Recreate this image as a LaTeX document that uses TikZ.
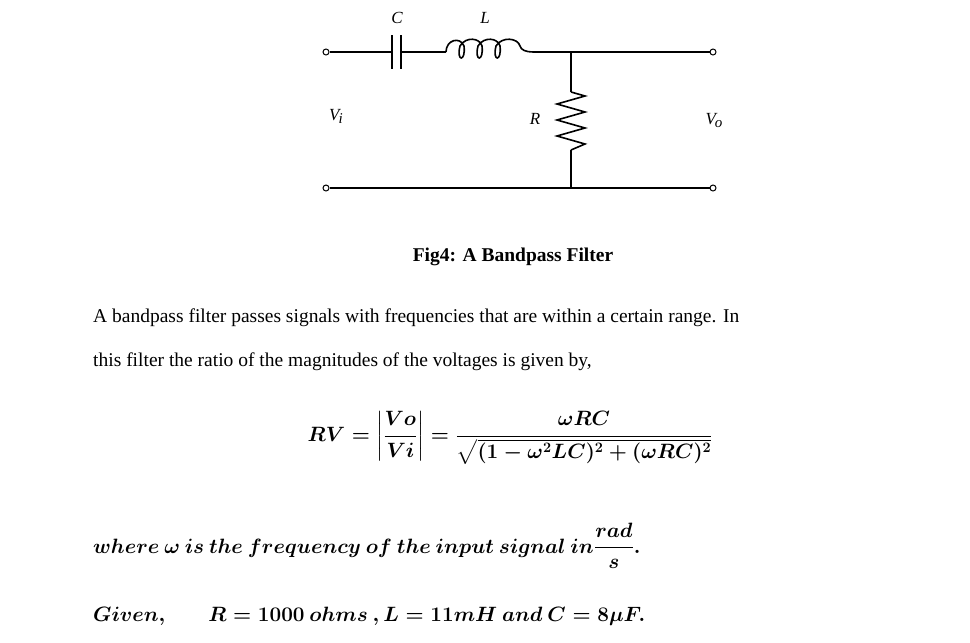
\documentclass[tikz,border=0pt]{standalone}
\usepackage{amsmath}
\usepackage{fontspec}
\setmainfont{Liberation Serif}
\newsavebox{\eqbox}
\newsavebox{\whbox}
\newsavebox{\gvbox}
\begin{document}
\sbox{\eqbox}{\fontsize{20}{24}\selectfont\boldmath$RV=\left\lvert\dfrac{Vo}{Vi}\right\rvert=\dfrac{\omega RC}{\sqrt{(1-\omega^2LC)^2+(\omega RC)^2}}$}%
\sbox{\whbox}{\fontsize{19.5}{24}\selectfont\boldmath$where\ \omega\ is\ the\ frequency\ of\ the\ input\ signal\ in\dfrac{rad}{s}.$}%
\sbox{\gvbox}{\fontsize{19.5}{24}\selectfont\boldmath$Given,\qquad R=1000\ ohms\ , L=11mH\ and\ C=8\mu F.$}%
\begin{tikzpicture}[x=1pt,y=-1pt,
  wire/.style={line width=1.6pt},
  term/.style={circle,draw,line width=1pt,fill=white,inner sep=0pt,minimum size=6pt},
  lbl/.style={font=\fontsize{17}{20}\selectfont\itshape},
  txt/.style={font=\fontsize{19.5}{24}\selectfont,anchor=base west,inner sep=0pt}]
\useasboundingbox (0,0) rectangle (970,643);
\coordinate (c1) at (393,52); \coordinate (c2) at (401,52);
\coordinate (l1) at (446,52); \coordinate (l2) at (533,52);
\coordinate (j) at (571,52); \coordinate (jb) at (571,188);
\coordinate (r1) at (571,92); \coordinate (r2) at (571,150);
\node[term] (ti) at (326,52) {};
\node[term] (to) at (713,52) {};
\node[term] (bi) at (326,188) {};
\node[term] (bo) at (713,188) {};
\draw[wire] (ti) -- (c1);
\draw[wire] (392,35) -- (392,69);
\draw[wire] (401,35) -- (401,69);
\draw[wire] (c2) -- (l1);
\draw[wire] (l1) .. controls (446,40) and (460,36) .. (464,46)
  .. controls (466,62) and (456,62) .. (460,46)
  .. controls (466,36) and (480,38) .. (482,46)
  .. controls (484,62) and (474,62) .. (478,46)
  .. controls (484,36) and (498,38) .. (500,46)
  .. controls (502,62) and (492,62) .. (496,46)
  .. controls (502,36) and (518,38) .. (520,46)
  .. controls (521,50) and (526,52) .. (l2);
\draw[wire] (l2) -- (to);
\draw[wire] (j) -- (r1);
\draw[wire,line join=miter] (r1) -- (585,96) -- (557,104) -- (585,112) -- (557,120) -- (585,128) -- (557,136) -- (585,144) -- (r2);
\draw[wire] (r2) -- (jb);
\draw[wire] (bi) -- (bo);
\node[lbl] (lc) at (397,18) {C};
\node[lbl] (ll) at (485,18) {L};
\node[lbl] (lr) at (535,119) {R};
\node[lbl] (lvi) at (336,116) {V\kern-1pt\raisebox{-3pt}{\fontsize{15}{15}\selectfont i}};
\node[lbl] (lvo) at (714,121) {V\kern-1pt\raisebox{-3pt}{\fontsize{15}{15}\selectfont o}};
\node[font=\fontsize{19.5}{24}\selectfont\bfseries] (cap) at (513,257) {Fig4: A Bandpass Filter};
\node[txt] (p1) at (93,322) {A bandpass filter passes signals with frequencies that are within a certain range. In};
\node[txt] (p2) at (93,366) {this filter the ratio of the magnitudes of the voltages is given by,};
\node[inner sep=0pt] (eq) at (510,438) {\usebox{\eqbox}};
\node[txt] (w) at (93,553) {\usebox{\whbox}};
\node[txt] (g) at (93,621) {\usebox{\gvbox}};
\end{tikzpicture}
\end{document}
